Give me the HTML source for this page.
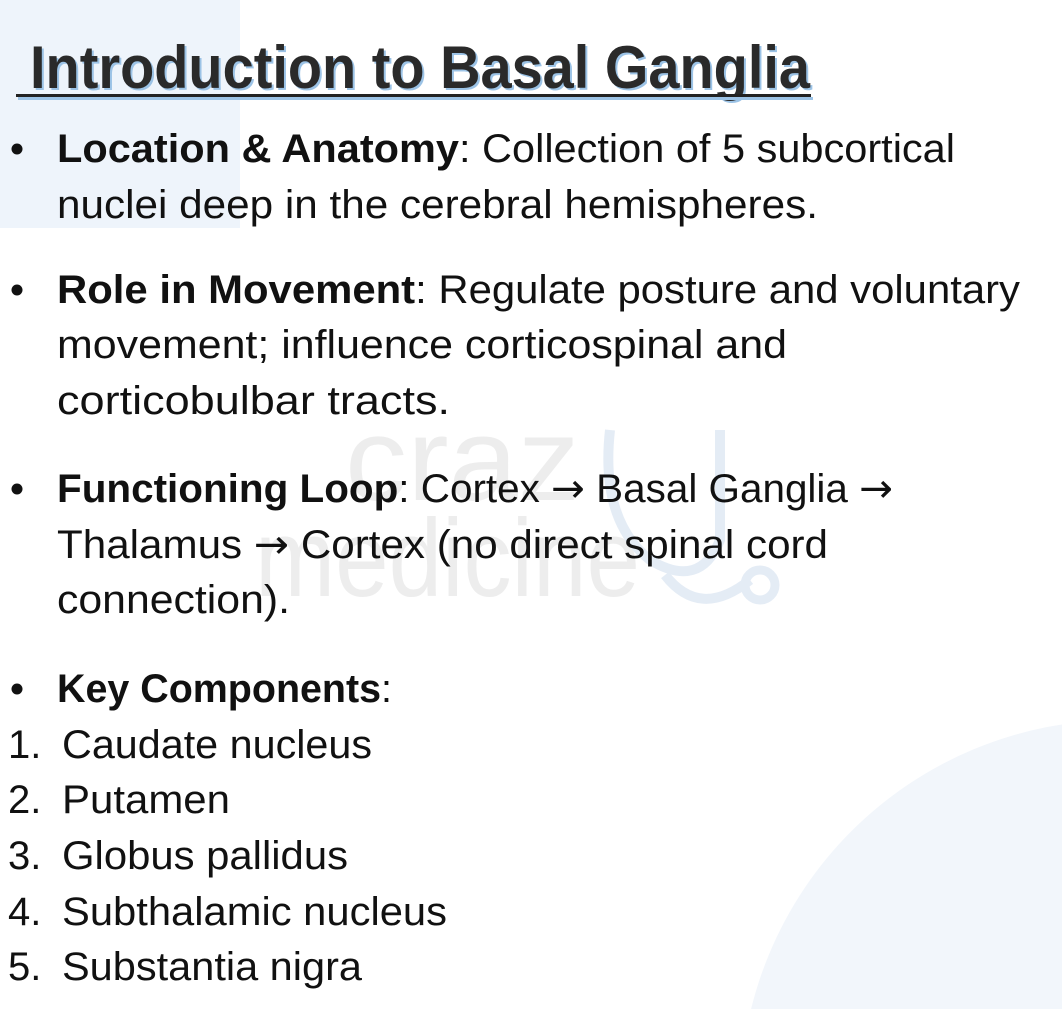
<!DOCTYPE html>
<html><head><meta charset="utf-8"><style>
html,body{margin:0;padding:0;background:#fff;width:1062px;height:1009px;overflow:hidden}
svg{display:block}
text{font-family:"Liberation Sans",sans-serif;fill:#111}
.ar{font-family:"DejaVu Sans",sans-serif}
</style></head><body>
<svg width="1062" height="1009" viewBox="0 0 1062 1009" xmlns="http://www.w3.org/2000/svg">
<rect x="0" y="0" width="240" height="228" fill="#eef4fb"/>
<circle cx="1120" cy="1100" r="380" fill="#f2f6fb"/>
<!-- watermark -->
<g opacity="0.45">
<text x="345" y="500" font-size="118" textLength="235" lengthAdjust="spacingAndGlyphs" style="fill:#d8d8d8">craz</text>
<text x="255" y="596" font-size="110" textLength="385" lengthAdjust="spacingAndGlyphs" style="fill:#d8d8d8">medicine</text>
<path d="M610 430 Q600 520 650 560 Q700 590 720 540 L720 430" fill="none" stroke="#c5d6ea" stroke-width="10"/>
<path d="M665 575 Q700 620 750 580" fill="none" stroke="#c5d6ea" stroke-width="10"/>
<circle cx="760" cy="585" r="15" fill="none" stroke="#c5d6ea" stroke-width="9"/>
</g>
<!-- title -->
<text x="32" y="90" font-size="60" font-weight="bold" textLength="780" lengthAdjust="spacingAndGlyphs" style="fill:#9cc3e6">Introduction to Basal Ganglia</text>
<text x="30" y="88" font-size="60" font-weight="bold" textLength="780" lengthAdjust="spacingAndGlyphs" style="fill:#2a2a2a">Introduction to Basal Ganglia</text>
<rect x="18" y="97" width="795" height="3" fill="#9cc3e6"/>
<rect x="16" y="94" width="795" height="3" fill="#222"/>
<!-- bullets -->
<circle cx="17" cy="149" r="5.5" fill="#111"/>
<circle cx="17" cy="290" r="5.5" fill="#111"/>
<circle cx="17" cy="489" r="5.5" fill="#111"/>
<circle cx="17" cy="689" r="5.5" fill="#111"/>
<text x="57" y="162" font-size="40" textLength="898" lengthAdjust="spacingAndGlyphs"><tspan font-weight="bold">Location &amp; Anatomy</tspan>: Collection of 5 subcortical</text>
<text x="57" y="218" font-size="40" textLength="761" lengthAdjust="spacingAndGlyphs">nuclei deep in the cerebral hemispheres.</text>
<text x="57" y="303" font-size="40" textLength="963" lengthAdjust="spacingAndGlyphs"><tspan font-weight="bold">Role in Movement</tspan>: Regulate posture and voluntary</text>
<text x="57" y="358" font-size="40" textLength="730" lengthAdjust="spacingAndGlyphs">movement; influence corticospinal and</text>
<text x="57" y="414" font-size="40" textLength="393" lengthAdjust="spacingAndGlyphs">corticobulbar tracts.</text>
<text x="57" y="502" font-size="40" textLength="836" lengthAdjust="spacingAndGlyphs"><tspan font-weight="bold">Functioning Loop</tspan>: Cortex <tspan class="ar">→</tspan> Basal Ganglia <tspan class="ar">→</tspan></text>
<text x="57" y="558" font-size="40" textLength="771" lengthAdjust="spacingAndGlyphs">Thalamus <tspan class="ar">→</tspan> Cortex (no direct spinal cord</text>
<text x="57" y="613" font-size="40" textLength="233" lengthAdjust="spacingAndGlyphs">connection).</text>
<text x="57" y="702" font-size="40" textLength="335" lengthAdjust="spacingAndGlyphs"><tspan font-weight="bold">Key Components</tspan>:</text>
<text x="8" y="758" font-size="40">1.</text><text x="62" y="758" font-size="40" textLength="310" lengthAdjust="spacingAndGlyphs">Caudate nucleus</text>
<text x="8" y="813" font-size="40">2.</text><text x="62" y="813" font-size="40" textLength="168" lengthAdjust="spacingAndGlyphs">Putamen</text>
<text x="8" y="869" font-size="40">3.</text><text x="62" y="869" font-size="40" textLength="286" lengthAdjust="spacingAndGlyphs">Globus pallidus</text>
<text x="8" y="925" font-size="40">4.</text><text x="62" y="925" font-size="40" textLength="385" lengthAdjust="spacingAndGlyphs">Subthalamic nucleus</text>
<text x="8" y="980" font-size="40">5.</text><text x="62" y="980" font-size="40" textLength="300" lengthAdjust="spacingAndGlyphs">Substantia nigra</text>
</svg>
</body></html>
